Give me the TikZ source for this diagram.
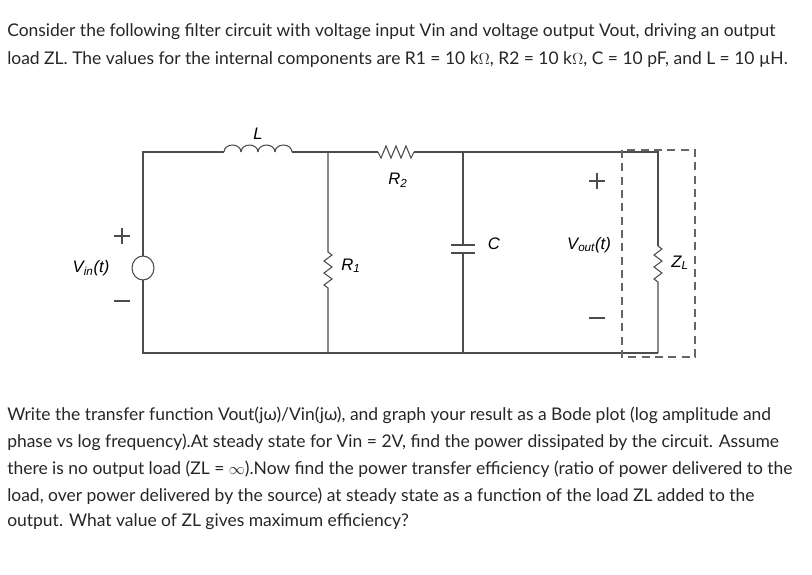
\documentclass[tikz,border=0pt]{standalone}
\usepackage{fontspec}
\setmainfont{Lato}
\newfontfamily\arialf{Liberation Sans}
\begin{document}
\begin{tikzpicture}[x=0.75pt,y=-0.75pt,
  txt/.style={anchor=west,inner sep=0pt,font=\fontsize{13.1}{15}\selectfont,text=black!85},
  lab/.style={inner sep=0pt,font=\arialf\itshape\fontsize{12.5}{14}\selectfont},
  w/.style={draw=black!70,line width=0.8pt}]
\useasboundingbox (0,0) rectangle (812,574);
\node[txt] (t1) at (7,32) {Consider the following filter circuit with voltage input Vin and voltage output Vout, driving an output};
\node[txt] (t2) at (7,60) {load ZL. The values for the internal components are R1 = 10 k$\Omega$, R2 = 10 k$\Omega$, C = 10 pF, and L = 10 µH.};
\node[txt] (b1) at (7,415) {Write the transfer function Vout(jω)/Vin(jω), and graph your result as a Bode plot (log amplitude and};
\node[txt] (b2) at (7,442) {phase vs log frequency).At steady state for Vin = 2V, find the power dissipated by the circuit. Assume};
\node[txt] (b3) at (7,469) {there is no output load (ZL = $\infty$).Now find the power transfer efficiency (ratio of power delivered to the};
\node[txt] (b4) at (7,496) {load, over power delivered by the source) at steady state as a function of the load ZL added to the};
\node[txt] (b5) at (7,522) {output. What value of ZL gives maximum efficiency?};
% wires
\draw[w] (143,256) -- (143,152) -- (224,152);
\foreach \i in {0,1,2,3}{\draw[w] (224+\i*17,152) arc[start angle=180,end angle=0,x radius=8.5,y radius=-7];}
\draw[w] (292,152) -- (378,152);
\draw[w] (378,152) -- (381,158) -- (386,146) -- (391,158) -- (396,146) -- (401,158) -- (406,146) -- (411,158) -- (414,152);
\draw[w] (414,152) -- (658,152) -- (658,246);
\draw[w] (658,246) -- (662,249) -- (654,255) -- (662,261) -- (654,267) -- (662,273) -- (654,279) -- (658,282) -- (658,353);
\draw[w] (143,280) -- (143,353) -- (658,353);
\draw[w] (328,152) -- (328,252) -- (332,255) -- (324,261) -- (332,267) -- (324,273) -- (332,279) -- (324,285) -- (328,288) -- (328,353);
\draw[w] (463,152) -- (463,245) (451,245) -- (475,245) (451,253) -- (475,253) (463,253) -- (463,353);
\draw[w] (143,268) circle[x radius=11,y radius=-12];
\draw[dash pattern=on 6pt off 4pt,draw=black!60,line width=0.8pt] (622,150) rectangle (695,357);
% signs
\draw[w] (114,236) -- (130,236) (122,228) -- (122,244);
\draw[w] (114,301) -- (130,301);
\draw[w] (589,181) -- (605,181) (597,173) -- (597,189);
\draw[w] (589,318) -- (605,318);
% labels
\node[lab] (lL) at (258,134) {L};
\node[lab] (lR2) at (398,180) {R\textsubscript{2}};
\node[lab] (lR1) at (351,266) {R\textsubscript{1}};
\node[lab] (lC) at (494,244) {C};
\node[lab] (lZ) at (680,263) {Z\textsubscript{L}};
\node[lab] (lVo) at (589,245) {V\textsubscript{out}(t)};
\node[lab] (lVi) at (91,268) {V\textsubscript{in}(t)};
\end{tikzpicture}
\end{document}
